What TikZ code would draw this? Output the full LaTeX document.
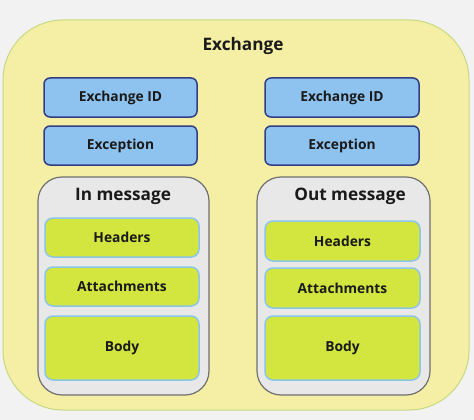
\documentclass[tikz,border=0pt]{standalone}
\usepackage{fontspec}
\setmainfont{Open Sans}
\definecolor{bgc}{HTML}{F2F2F2}
\definecolor{yfill}{HTML}{F5EFA6}
\definecolor{yline}{HTML}{C5DA80}
\definecolor{bfill}{HTML}{8EC3F0}
\definecolor{bline}{HTML}{2F3E86}
\definecolor{gfill}{HTML}{D3E63F}
\definecolor{gline}{HTML}{8CC6E6}
\definecolor{mfill}{HTML}{E8E8E8}
\definecolor{mline}{HTML}{707070}
\definecolor{txt}{HTML}{1A1A1A}
\tikzset{
  outerbox/.style={draw=yline, fill=yfill, line width=1pt, rounded corners=60pt},
  msgbox/.style={draw=mline, fill=mfill, line width=1.2pt, rounded corners=24pt},
  bluebox/.style={draw=bline, fill=bfill, line width=1.5pt, rounded corners=6pt},
  greenbox/.style={draw=gline, fill=gfill, line width=1.5pt, rounded corners=8pt},
  lbl/.style={font=\bfseries\fontsize{13.8}{16}\selectfont, text=txt},
  ttl/.style={font=\bfseries\fontsize{17.2}{20}\selectfont, text=txt}
}
\begin{document}
\begin{tikzpicture}[x=1pt,y=-1pt]
\fill[bgc] (0,0) rectangle (474,420);
\useasboundingbox (0,0) rectangle (474,420);
\draw[outerbox] (3,20) rectangle (469,410);
\node[ttl] (ex) at (243,46) {Exchange};
% left side
\draw[bluebox] (44,78) rectangle (197,117) node[lbl, midway] (idl) {Exchange ID};
\draw[bluebox] (44,126) rectangle (197,165) node[lbl, midway] (exl) {Exception};
\draw[msgbox] (38,177) rectangle (209,395);
\node[ttl] (inm) at (123,196) {In message};
\draw[greenbox] (45,218) rectangle (199,257) node[lbl, midway] (hl) {Headers};
\draw[greenbox] (45,267) rectangle (199,306) node[lbl, midway] (al) {Attachments};
\draw[greenbox] (45,316) rectangle (199,380) node[lbl, midway] (bl) {Body};
% right side
\draw[bluebox] (265,78) rectangle (419,117) node[lbl, midway] (idr) {Exchange ID};
\draw[bluebox] (265,126) rectangle (419,165) node[lbl, midway] (exr) {Exception};
\draw[msgbox] (257,177) rectangle (430,395);
\node[ttl] (outm) at (350,196) {Out message};
\draw[greenbox] (265,221) rectangle (420,261) node[lbl, midway] (hr) {Headers};
\draw[greenbox] (265,268) rectangle (420,308) node[lbl, midway] (ar) {Attachments};
\draw[greenbox] (265,316) rectangle (420,380) node[lbl, midway] (br) {Body};
\end{tikzpicture}
\end{document}
